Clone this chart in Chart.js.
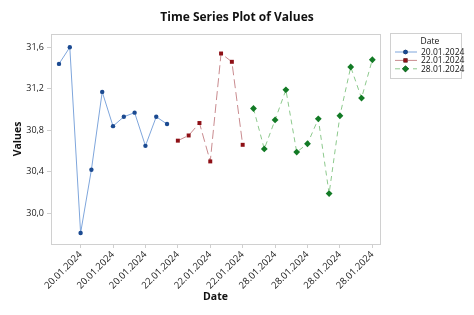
<!DOCTYPE html>
<html>
<head>
<meta charset="utf-8">
<script src="https://cdn.jsdelivr.net/npm/chart.js@4"></script>
<style>
  html, body { margin: 0; padding: 0; background: #fff; }
  #wrap { width: 474px; height: 315px; }
</style>
</head>
<body>
<div id="wrap"><canvas id="chart" width="474" height="315"></canvas></div>
<script>
// Series, one per date group
const groupDates = ['20.01.2024', '22.01.2024', '28.01.2024'];
const values20 = [31.44, 31.60, 29.81, 30.42, 31.17, 30.84, 30.93, 30.97, 30.65, 30.93, 30.86];
const values22 = [30.70, 30.75, 30.87, 30.50, 31.54, 31.46, 30.66];
const values28 = [31.01, 30.62, 30.90, 31.19, 30.59, 30.67, 30.91, 30.19, 30.94, 31.41, 31.11, 31.48];

// axis ticks
const xTickIndex = [3, 6, 9, 12, 15, 18, 21, 24, 27, 30];
const yTicks = [30.0, 30.4, 30.8, 31.2, 31.6];

const FONT = '"Open Sans", "Noto Sans", sans-serif';

// point index -> date label
const pointDates = [];
[values20, values22, values28].forEach((vals, g) => vals.forEach(() => pointDates.push(groupDates[g])));

let start = 1;
function toPoints(vals) {
    const pts = vals.map((v, i) => ({ x: start + i, y: v }));
    start += vals.length;
    return pts;
}

const styles = [
    { line: '#7fa6dc', mark: '#1b4a91', dash: [], shape: 'circle', r: 2.2 },
    { line: '#c98b8f', mark: '#8e1016', dash: [9, 4], shape: 'rect', r: 2.8 },
    { line: '#8dc98d', mark: '#127a25', dash: [5, 4], shape: 'rectRot', r: 3.4 }
];

const datasets = [values20, values22, values28].map((vals, g) => ({
    label: groupDates[g],
    data: toPoints(vals),
    borderColor: styles[g].line,
    borderWidth: 1,
    borderDash: styles[g].dash,
    backgroundColor: styles[g].mark,
    pointBackgroundColor: styles[g].mark,
    pointBorderColor: styles[g].mark,
    pointBorderWidth: 0,
    pointStyle: styles[g].shape,
    pointRadius: styles[g].r,
    tension: 0
}));

// title, plot frame and legend box
const framePlugin = {
    id: 'frame',
    beforeDatasetsDraw(chart) {
        const { ctx, chartArea: a } = chart;
        ctx.save();
        ctx.strokeStyle = '#d0d0d0';
        ctx.lineWidth = 1;
        ctx.strokeRect(Math.round(a.left) + 0.5, Math.round(a.top) + 0.5,
            Math.round(a.right - a.left), Math.round(a.bottom - a.top));
        ctx.restore();
    },
    afterDraw(chart) {
        const ctx = chart.ctx;
        ctx.save();
        ctx.fillStyle = '#111';
        ctx.font = 'bold 12px ' + FONT;
        ctx.textAlign = 'center';
        ctx.textBaseline = 'middle';
        ctx.fillText('Time Series Plot of Values', 237, 18);

        const bx = 390.5, by = 33.5, bw = 71, bh = 45;
        ctx.strokeStyle = '#d0d0d0';
        ctx.lineWidth = 1;
        ctx.strokeRect(bx, by, bw, bh);
        ctx.font = '8.5px ' + FONT;
        ctx.textAlign = 'left';
        ctx.fillText('Date', 420.5, 42);
        chart.data.datasets.forEach((ds, i) => {
            const y = 52 + i * 8.4;
            ctx.strokeStyle = ds.borderColor;
            ctx.setLineDash(ds.borderDash);
            ctx.beginPath();
            ctx.moveTo(395, y);
            ctx.lineTo(417, y);
            ctx.stroke();
            ctx.setLineDash([]);
            Chart.helpers.drawPoint(ctx, {
                pointStyle: ds.pointStyle, radius: ds.pointRadius, borderWidth: 0, rotation: 0
            }, 405.5, y);
            ctx.fillStyle = ds.pointBackgroundColor;
            ctx.fill();
            ctx.fillStyle = '#111';
            ctx.fillText(ds.label, 421, y + 0.5);
        });
        ctx.restore();
    }
};

new Chart(document.getElementById('chart'), {
    type: 'line',
    data: { datasets },
    plugins: [framePlugin],
    options: {
        responsive: false,
        animation: false,
        layout: { padding: { left: 0, right: 94, top: 34, bottom: 0 } },
        plugins: {
            legend: { display: false },
            tooltip: { enabled: false }
        },
        scales: {
            x: {
                type: 'linear',
                min: 0.26,
                max: 30.71,
                afterFit(scale) { scale.height = 71; },
                afterBuildTicks(scale) { scale.ticks = xTickIndex.map(v => ({ value: v })); },
                grid: { drawOnChartArea: false, drawTicks: true, tickLength: 4, color: '#cfcfcf' },
                border: { color: '#d0d0d0' },
                ticks: {
                    autoSkip: false,
                    minRotation: 45,
                    maxRotation: 45,
                    padding: 1,
                    color: '#222',
                    font: { family: FONT, size: 9.5 },
                    callback: v => pointDates[v - 1]
                },
                title: {
                    display: true,
                    text: 'Date',
                    color: '#111',
                    font: { family: FONT, size: 10.5, weight: 'bold' },
                    padding: { top: 0, bottom: 12 }
                }
            },
            y: {
                min: 29.704,
                max: 31.728,
                afterFit(scale) { scale.width = 51; },
                afterBuildTicks(scale) { scale.ticks = yTicks.map(v => ({ value: v })); },
                grid: { drawOnChartArea: false, drawTicks: true, tickLength: 4, color: '#cfcfcf' },
                border: { color: '#d0d0d0' },
                ticks: {
                    padding: 3,
                    color: '#222',
                    font: { family: FONT, size: 9 },
                    callback: v => v.toFixed(1).replace('.', ',')
                },
                title: {
                    display: true,
                    text: 'Values',
                    color: '#111',
                    font: { family: FONT, size: 10.5, weight: 'bold' },
                    padding: { top: 12, bottom: 0 }
                }
            }
        }
    }
});
</script>
</body>
</html>
